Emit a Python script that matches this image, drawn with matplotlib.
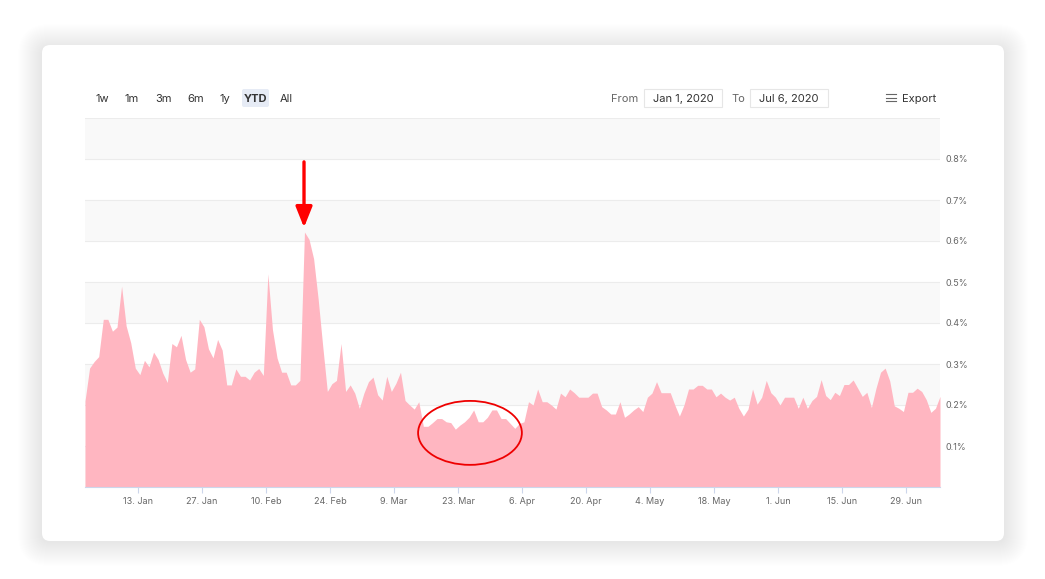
import matplotlib
matplotlib.use("Agg")
import matplotlib.pyplot as plt
from matplotlib.patches import FancyBboxPatch, Rectangle, Ellipse
import numpy as np

# daily values (%), 1 Jan - 6 Jul 2020
jan = [0.21, 0.29, 0.306, 0.318, 0.409, 0.409, 0.38, 0.39, 0.49, 0.393, 0.352,
       0.29, 0.274, 0.309, 0.293, 0.329, 0.311, 0.278, 0.255, 0.35, 0.342, 0.37,
       0.311, 0.28, 0.288, 0.409, 0.391, 0.337, 0.315, 0.36, 0.334]
feb = [0.249, 0.249, 0.288, 0.27, 0.27, 0.261, 0.28, 0.289, 0.272, 0.52, 0.384,
       0.315, 0.28, 0.28, 0.249, 0.249, 0.26, 0.622, 0.604, 0.557, 0.458, 0.343,
       0.233, 0.252, 0.26, 0.35, 0.233, 0.249, 0.229]
mar = [0.192, 0.229, 0.257, 0.268, 0.225, 0.212, 0.27, 0.233, 0.253, 0.28, 0.211,
       0.2, 0.19, 0.208, 0.148, 0.148, 0.157, 0.167, 0.167, 0.159, 0.157, 0.141,
       0.151, 0.159, 0.17, 0.188, 0.159, 0.159, 0.17, 0.188, 0.188]
apr = [0.167, 0.167, 0.155, 0.143, 0.155, 0.159, 0.208, 0.2, 0.239, 0.208, 0.208,
       0.2, 0.19, 0.229, 0.22, 0.239, 0.23, 0.219, 0.219, 0.219, 0.229, 0.229,
       0.196, 0.188, 0.178, 0.178, 0.208, 0.17, 0.178, 0.188]
may = [0.196, 0.184, 0.219, 0.229, 0.257, 0.23, 0.23, 0.23, 0.2, 0.173, 0.2,
       0.239, 0.239, 0.248, 0.248, 0.239, 0.239, 0.22, 0.229, 0.219, 0.212, 0.219,
       0.192, 0.173, 0.19, 0.239, 0.202, 0.219, 0.26, 0.23, 0.219]
jun = [0.2, 0.219, 0.219, 0.219, 0.192, 0.219, 0.192, 0.211, 0.221, 0.262, 0.223,
       0.213, 0.231, 0.223, 0.25, 0.25, 0.261, 0.241, 0.221, 0.231, 0.194, 0.241,
       0.28, 0.29, 0.259, 0.198, 0.192, 0.184, 0.231, 0.231]
jul = [0.241, 0.233, 0.213, 0.182, 0.192, 0.221]

tick_days = [12, 26, 40, 54, 68, 82, 96, 110, 124, 138, 152, 166, 180]
tick_labels = ["13. Jan", "27. Jan", "10. Feb", "24. Feb", "9. Mar", "23. Mar",
               "6. Apr", "20. Apr", "4. May", "18. May", "1. Jun", "15. Jun", "29. Jun"]
y_ticks = [0.1, 0.2, 0.3, 0.4, 0.5, 0.6, 0.7, 0.8]
buttons = ["1w", "1m", "3m", "6m", "1y", "YTD", "All"]

values = np.array(jan + feb + mar + apr + may + jun + jul)
days = np.arange(len(values)) + 0.4

W, H = 1045, 579
fig = plt.figure(figsize=(W / 100, H / 100), dpi=100)
fig.patch.set_facecolor("white")
plt.rcParams["font.family"] = ["Inter", "DejaVu Sans"]

# background in pixel coords
bg = fig.add_axes([0, 0, 1, 1], zorder=0)
bg.set_xlim(0, W)
bg.set_ylim(H, 0)
bg.axis("off")

# card with soft shadow
for i in range(24, 0, -1):
    bg.add_patch(FancyBboxPatch((42 - i, 48 - i), 962 + 2 * i, 494 + 2 * i,
                                boxstyle="round,pad=0,rounding_size=%d" % (8 + i),
                                fc="#000000", ec="none", alpha=0.0035))
bg.add_patch(FancyBboxPatch((42, 45), 962, 496, boxstyle="round,pad=0,rounding_size=8",
                            fc="white", ec="none"))

# range buttons
btn_x = [102, 132, 164, 196, 225, 256, 286]
bg.add_patch(FancyBboxPatch((242, 89), 27, 18, boxstyle="round,pad=0,rounding_size=2",
                            fc="#e6ebf5", ec="none"))
for b, x in zip(buttons, btn_x):
    bg.text(x, 98.5, b, ha="center", va="center", fontsize=8, color="#333333",
            fontweight="bold" if b == "YTD" else "normal")

# date inputs
bg.text(625, 98.5, "From", ha="center", va="center", fontsize=8, color="#666666")
bg.add_patch(Rectangle((644, 89), 78, 18, fc="white", ec="#e6e6e6", lw=0.8))
bg.text(683, 98.5, "Jan 1, 2020", ha="center", va="center", fontsize=8, color="#333333")
bg.text(738, 98.5, "To", ha="center", va="center", fontsize=8, color="#666666")
bg.add_patch(Rectangle((750, 89), 78, 18, fc="white", ec="#e6e6e6", lw=0.8))
bg.text(789, 98.5, "Jul 6, 2020", ha="center", va="center", fontsize=8, color="#333333")
for yy in (94, 97.7, 101.4):
    bg.plot([886, 896], [yy, yy], color="#666666", lw=0.8)
bg.text(919, 98.5, "Export", ha="center", va="center", fontsize=8, color="#333333")

# main chart
ax = fig.add_axes([85 / W, 1 - 487 / H, 855 / W, 369 / H], zorder=1)
ax.set_facecolor("none")
ax.set_xlim(0.4, len(values) - 1 + 0.4)
ax.set_ylim(0, 0.9)

for lo in (0.0, 0.2, 0.4, 0.6, 0.8):
    ax.axhspan(lo, lo + 0.1, color="#f9f9f9", lw=0, zorder=0)
for y in y_ticks + [0.9]:
    ax.axhline(y, color="#ececec", lw=0.8, zorder=0.5)

ax.fill_between(days, 0, values, color="#ffb6c1", lw=0, zorder=2)

ax.yaxis.tick_right()
ax.set_yticks(y_ticks)
ax.set_yticklabels(["%.1f%%" % v for v in y_ticks])
ax.tick_params(axis="y", length=0, pad=4, labelsize=6.5, labelcolor="#666666")

ax.set_xticks(tick_days)
ax.set_xticklabels(tick_labels)
ax.tick_params(axis="x", length=4, width=0.8, color="#ccd6eb", pad=3.5,
               labelsize=6.5, labelcolor="#666666")
for s in ("top", "left", "right"):
    ax.spines[s].set_visible(False)
ax.spines["bottom"].set_color("#ccd6eb")
ax.spines["bottom"].set_linewidth(0.8)

# annotations
ax.annotate("", xy=(48.3, 0.633), xytext=(48.3, 0.793),
            arrowprops=dict(arrowstyle="-|>,head_length=1.25,head_width=0.5",
                            color="#ff0000", lw=2.4, shrinkA=0, shrinkB=0),
            annotation_clip=False, zorder=5)
ax.add_patch(Ellipse((84.6, 0.132), 22.7, 0.156, fill=False, ec="#ee0000", lw=1.3,
                     zorder=5, clip_on=False))

fig.savefig("out.png", dpi=100, facecolor="white")
